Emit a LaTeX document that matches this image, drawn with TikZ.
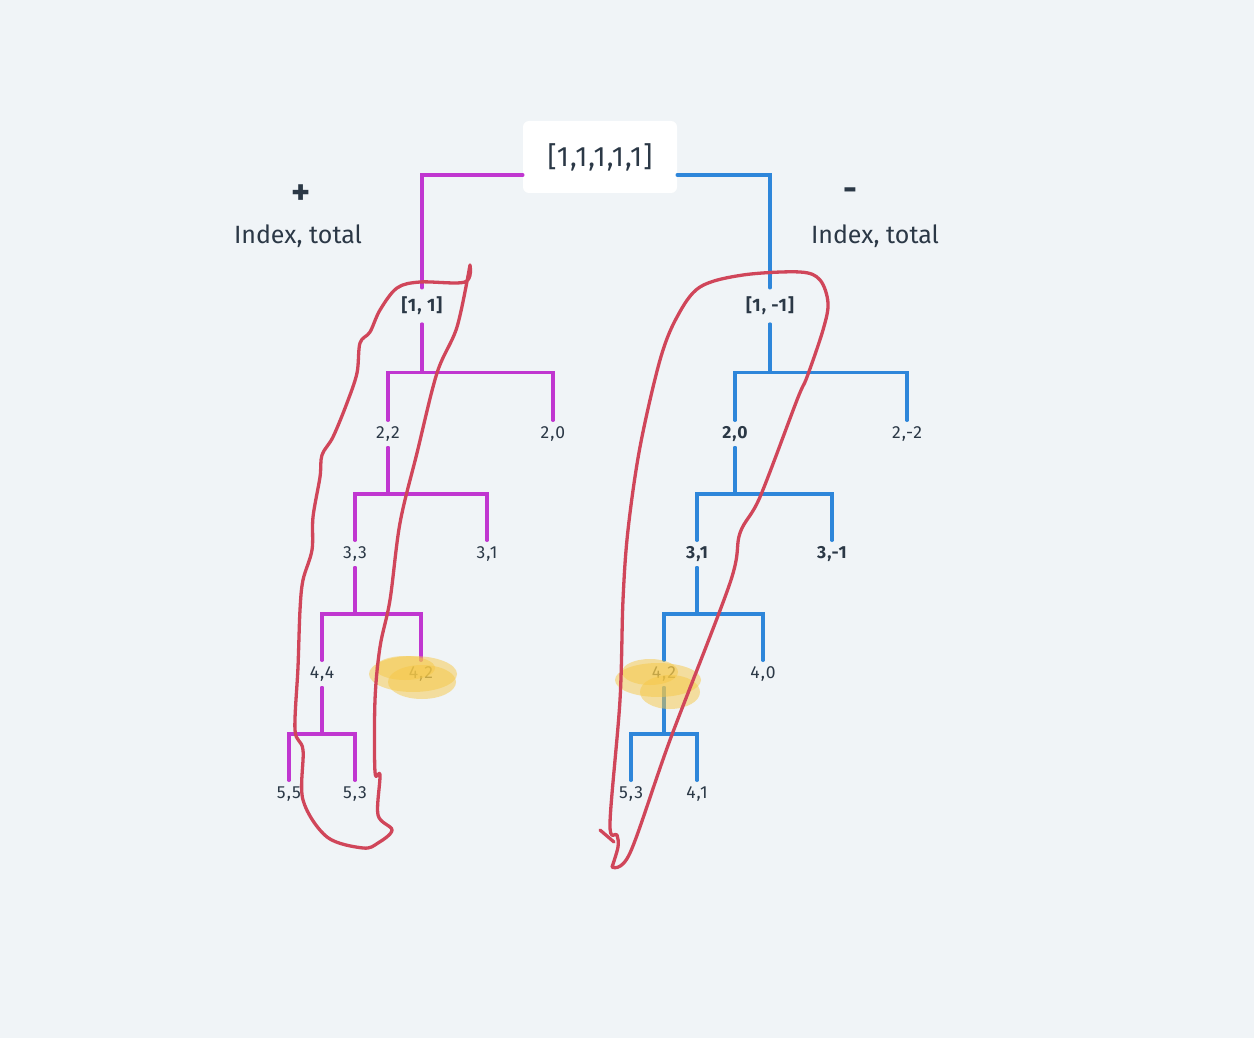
\documentclass[tikz,border=0pt]{standalone}
\usepackage{fontspec}
\setmainfont{Fira Sans}
\newfontfamily\lblfont{Fira Sans}[LetterSpace=6]
\newfontfamily\rootfont{Fira Sans}[LetterSpace=4]
\usetikzlibrary{calc}
\definecolor{bgc}{RGB}{240,244,247}
\definecolor{txt}{RGB}{43,56,70}
\definecolor{purp}{RGB}{192,54,208}
\definecolor{blu}{RGB}{46,134,218}
\definecolor{redl}{RGB}{208,70,90}
\definecolor{hlc}{RGB}{246,200,70}
\tikzset{
  lbl/.style={inner sep=0pt, minimum height=27pt, text=txt, font=\lblfont\fontsize{17.5}{17.5}\selectfont},
  top/.style={lbl, minimum height=36pt, font=\lblfont\fontsize{18}{18}\selectfont\bfseries},
  bld/.style={font=\lblfont\fontsize{17.5}{17.5}\selectfont\bfseries},
  pl/.style={draw=purp, line width=3.4pt, line cap=round, line join=miter},
  bl/.style={draw=blu, line width=3.4pt, line cap=round, line join=miter},
  loop/.style={draw=redl, line width=3.3pt, line cap=round, line join=round},
  hl/.style={fill=hlc, opacity=0.5},
}
\newcommand{\conn}[3]{\draw[#3] (#1.south) |- ($(#1.south)!0.5!(#2.north)$) -| (#2.north);}
\begin{document}
\begin{tikzpicture}[x=1pt,y=-1pt]
\fill[bgc] (0,0) rectangle (1254,1038);
\useasboundingbox (0,0) rectangle (1254,1038);
% root
\node[fill=white, rounded corners=6pt, minimum width=154pt, minimum height=72pt, inner sep=0pt, text=txt, font=\rootfont\fontsize{28}{28}\selectfont] (root) at (600,157) {[1,1,1,1,1]};
\node[text=txt, font=\fontsize{36}{36}\selectfont\bfseries] (plus) at (301,195) {+};
\node[text=txt, font=\fontsize{25}{25}\selectfont] (il) at (298,236) {Index, total};
\node[text=txt, font=\fontsize{34}{34}\selectfont\bfseries] (minus) at (850,194) {-};
\node[text=txt, font=\fontsize{25}{25}\selectfont] (ir) at (875,236) {Index, total};
% left tree
\node[top] (a1) at (422,306) {[1, 1]};
\node[lbl] (a22) at (388,434) {2,2};
\node[lbl] (a20) at (553,434) {2,0};
\node[lbl] (a33) at (355,554) {3,3};
\node[lbl] (a31) at (487,554) {3,1};
\node[lbl] (a44) at (322,674) {4,4};
\node[lbl] (a42) at (421,674) {4,2};
\node[lbl] (a55) at (289,794) {5,5};
\node[lbl] (a53) at (355,794) {5,3};
% right tree
\node[top] (b1) at (770,306) {[1, -1]};
\node[lbl,bld] (b20) at (735,434) {2,0};
\node[lbl] (b2m) at (907,434) {2,-2};
\node[lbl,bld] (b31) at (697,554) {3,1};
\node[lbl,bld] (b3m) at (832,554) {3,-1};
\node[lbl] (b42) at (664,674) {4,2};
\node[lbl] (b40) at (763,674) {4,0};
\node[lbl] (b53) at (631,794) {5,3};
\node[lbl] (b41) at (697,794) {4,1};
% root connectors
\draw[pl] ($(root.west)+(0,18)$) -| (a1.north);
\draw[bl] ($(root.east)+(0,18)$) -| (b1.north);
% left connectors
\conn{a1}{a22}{pl}\conn{a1}{a20}{pl}
\conn{a22}{a33}{pl}\conn{a22}{a31}{pl}
\conn{a33}{a44}{pl}\conn{a33}{a42}{pl}
\conn{a44}{a55}{pl}\conn{a44}{a53}{pl}
% right connectors
\conn{b1}{b20}{bl}\conn{b1}{b2m}{bl}
\conn{b20}{b31}{bl}\conn{b20}{b3m}{bl}
\conn{b31}{b42}{bl}\conn{b31}{b40}{bl}
\conn{b42}{b53}{bl}\conn{b42}{b41}{bl}
% highlights
\begin{scope}[hl]
\fill (413,674) ellipse (44pt and 18pt);
\fill (422,682) ellipse (34pt and 17pt);
\fill (405,668) ellipse (30pt and 12pt);
\fill (658,680) ellipse (43pt and 17pt);
\fill (670,692) ellipse (30pt and 17pt);
\fill (650,672) ellipse (28pt and 13pt);
\end{scope}
% red loops
\draw[loop] plot[smooth, tension=0.55] coordinates {(470,265) (465,282) (420,282) (397,288) (380,310) (370,332) (360,343) (357,373) (347,403) (333,437) (322,455) (320,477) (313,517) (312,550) (303,580) (300,610) (298,667) (295,730) (303,750) (303,800) (327,837) (363,848) (378,843) (392,830) (378,815) (380,775) (375,772) (375,700) (380,647) (390,600) (400,523) (417,453) (437,373) (457,327) (470,265)};
\draw[loop] plot[smooth, tension=0.55] coordinates {(612,867) (630,853) (670,740) (730,583) (740,533) (760,497) (797,400) (807,377) (823,330) (828,303) (820,280) (800,272) (743,275) (700,287) (677,317) (660,360) (640,447) (628,530) (623,600) (620,700) (610,823) (617,835) (618,847) (612,867)};
\draw[loop] (600,830) -- (614,842);
\end{tikzpicture}
\end{document}
